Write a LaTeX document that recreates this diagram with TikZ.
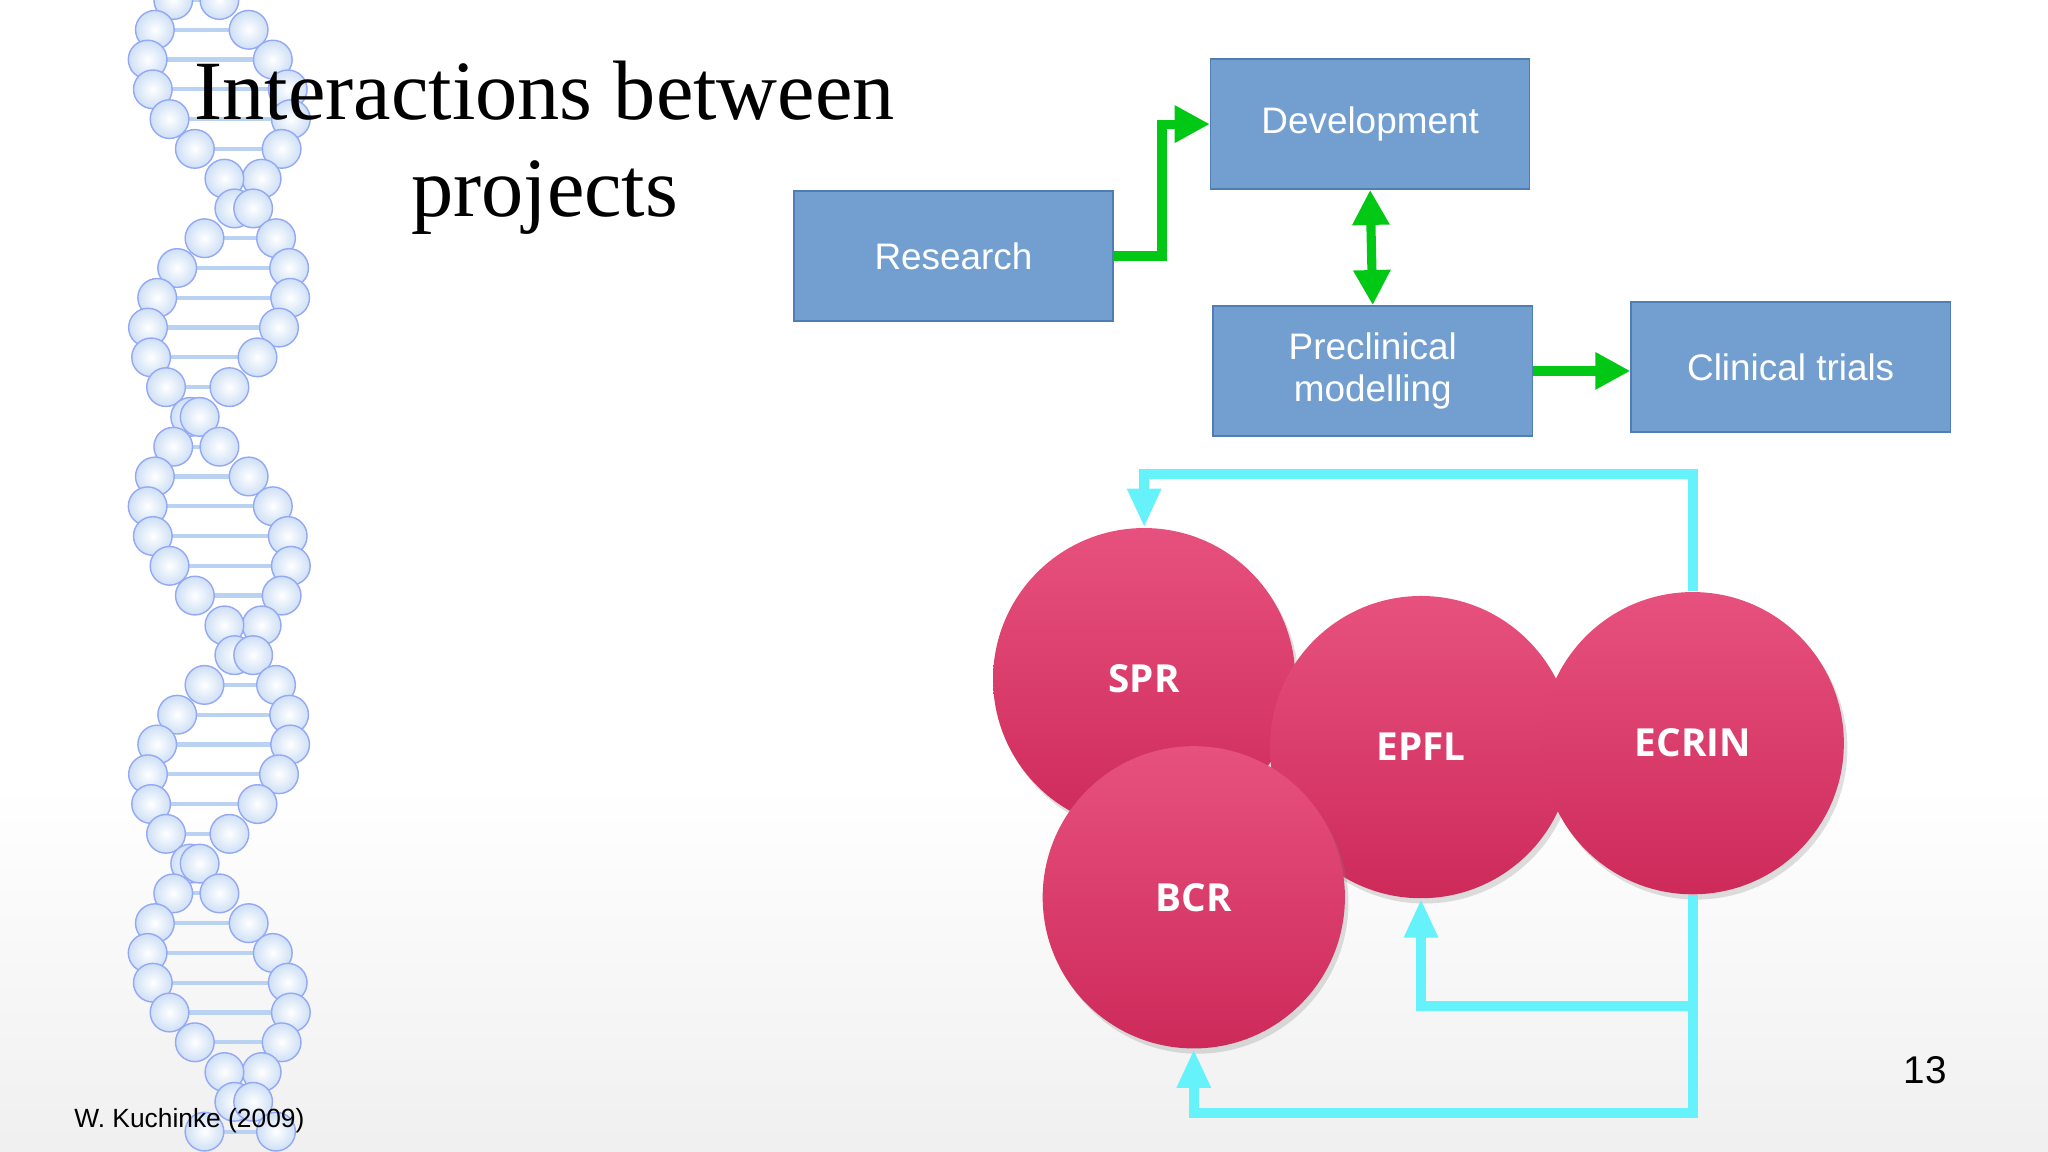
\documentclass[tikz,border=0pt]{standalone}
\usepackage{fontspec}
\setsansfont{Liberation Sans}
\setmainfont{Liberation Serif}
\newfontfamily\ballfont{Open Sans}
\usetikzlibrary{positioning,arrows.meta,shadows}

\definecolor{boxblue}{HTML}{729FCF}
\definecolor{boxline}{HTML}{4F7EB4}
\definecolor{flowgreen}{HTML}{00C814}
\definecolor{loopcyan}{HTML}{66F2FA}
\definecolor{ballhi}{HTML}{E7517E}
\definecolor{balllo}{HTML}{CD2A5A}
\definecolor{helix}{HTML}{B9D2F2}

\tikzset{
  stage/.style={draw=boxline, fill=boxblue, text=white, font=\sffamily\fontsize{10.5}{12}\selectfont,
    minimum width=90.8pt, minimum height=37pt, align=center, inner sep=1pt},
  partner/.style={circle, minimum size=86pt, inner sep=0pt, text=white,
    top color=ballhi, bottom color=balllo, font=\ballfont\bfseries\fontsize{11}{13}\selectfont,
    drop shadow={shadow xshift=1pt, shadow yshift=-1.5pt, opacity=0.25}},
  green/.style={draw=flowgreen, line width=2.6pt, -{Triangle[length=10pt,width=10pt]}},
  cyan/.style={draw=loopcyan, line width=2.8pt, -{Triangle[length=11pt,width=9pt]}},
  bead/.style={circle, draw=helix!80!blue, inner color=white, outer color=helix!70!white,
    minimum size=11pt, inner sep=0pt}
}

\begin{document}
\begin{tikzpicture}[x=0.01306cm, y=-0.01306cm]
  \useasboundingbox (0,0) rectangle (1568,882);
  \fill[white] (0,0) rectangle (1568,600);
  \fill[top color=white, bottom color=black!6] (0,600) rectangle (1568,882);

  % helix
  \foreach \i in {0,...,38} {
    \pgfmathsetmacro{\yy}{\i*22.8}
    \pgfmathsetmacro{\xa}{168+55*sin(\i*24)}
    \pgfmathsetmacro{\xb}{168-55*sin(\i*24+40)}
    \draw[helix, line width=1.2pt] (\xa,\yy) -- (\xb,\yy);
    \node[bead] (ba\i) at (\xa,\yy) {};
    \node[bead] (bb\i) at (\xb,\yy) {};
  }

  % title
  \node[font=\fontsize{24}{27.5}\selectfont, align=center] (title) at (417,113)
    {Interactions between\\projects};

  % flow of stages
  \node[stage] (research) at (730,196) {Research};
  \node[stage] (devel) at (1049,95) {Development};
  \node[stage] (precl) at (1051,284) {Preclinical\\modelling};
  \node[stage] (clinic) at (1371,281) {Clinical trials};

  \draw[green] (research.east) -- ++(37,0) |- (devel.west);
  \draw[green, {Triangle[length=10pt,width=10pt]}-{Triangle[length=10pt,width=10pt]}] (devel.south) -- (precl.north);
  \draw[green] (precl.east |- 0,284) -- (clinic.west |- 0,284);

  % partners
  \node[partner] (spr) at (876,520) {SPR};
  \node[partner] (epfl) at (1088,572) {EPFL};
  \node[partner] (bcr) at (914,687) {BCR};
  \node[partner] (ecrin) at (1296,569) {ECRIN};

  % feedback loops
  \draw[cyan] (ecrin.north) -- ++(0,-90) -| (spr.north);
  \draw[cyan] (ecrin.south) -- ++(0,85) -| (epfl.south);
  \draw[cyan] (ecrin.south) -- ++(0,167) -| (bcr.south);

  \node[font=\sffamily\fontsize{11}{13}\selectfont] (page) at (1474,819) {13};
  \node[font=\sffamily\fontsize{7.5}{9}\selectfont] (credit) at (145,858) {W. Kuchinke (2009)};
\end{tikzpicture}
\end{document}
